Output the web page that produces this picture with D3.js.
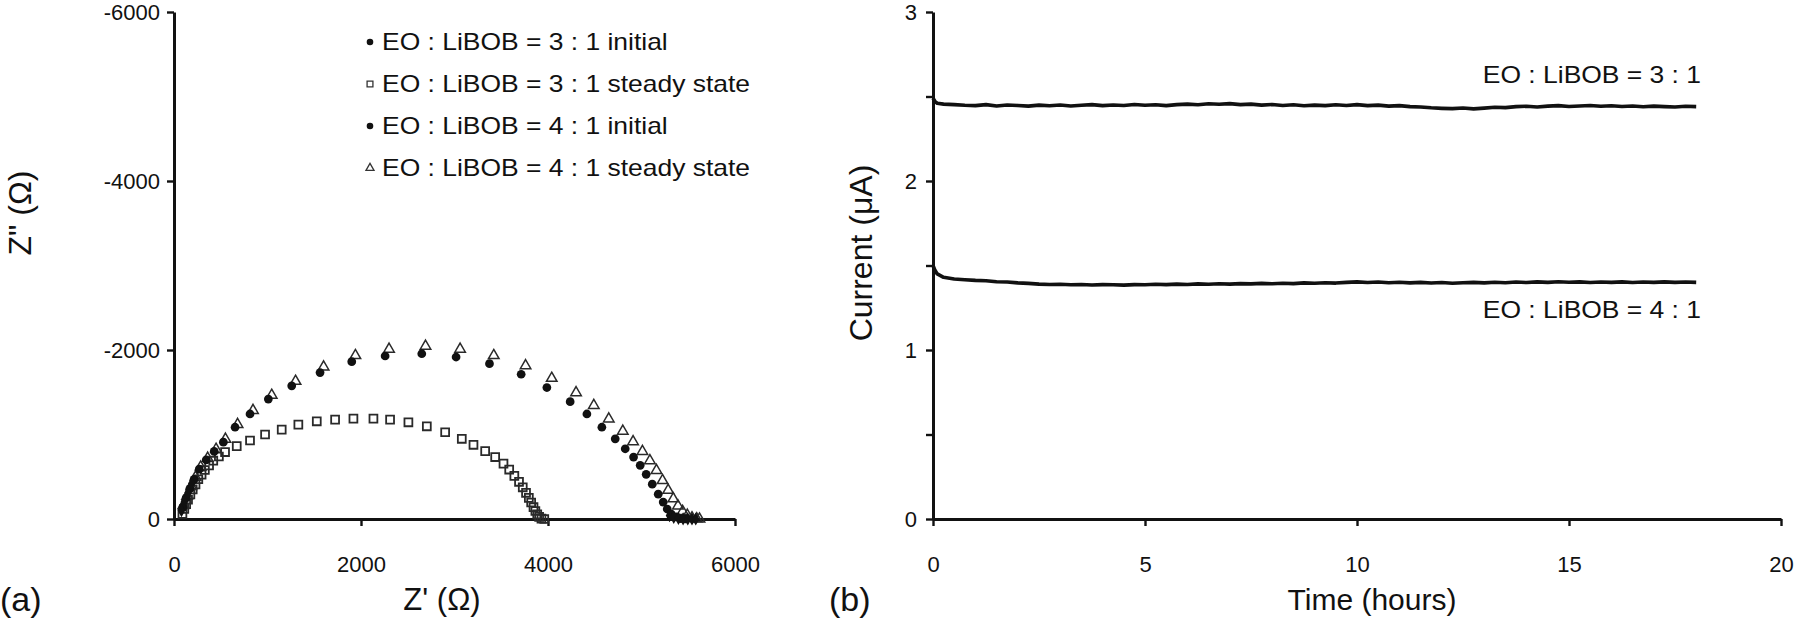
<!DOCTYPE html>
<html><head><meta charset="utf-8">
<script src="https://cdn.jsdelivr.net/npm/d3@7"></script>
<style>
body{margin:0;background:#fff}
svg{display:block}
text{font-family:"Liberation Sans",Arial,Helvetica,sans-serif;fill:#111}
</style>
</head><body>
<svg id="c" width="1800" height="623"></svg>
<script>
// ---------- Panel (a): Nyquist plot data (Z' , Z'') in ohm ----------
const zRealTicks = [0, 2000, 4000, 6000];
const zImagTicks = [0, -2000, -4000, -6000];
const legendLabels = [
  "EO : LiBOB = 3 : 1 initial",
  "EO : LiBOB = 3 : 1 steady state",
  "EO : LiBOB = 4 : 1 initial",
  "EO : LiBOB = 4 : 1 steady state"
];
// 3:1 initial (filled circles)
const init31Re = [95,130,170,215,270,345,430,528,653,813,1009,1259,1562,1901,2258,2650,3017,3374,3713,3988,4237,4416,4576,4719,4826,4915,4986,5050,5115,5179,5232,5275,5318,5371,5420,5470];
const init31Im = [-140,-250,-360,-470,-590,-700,-800,-909,-1086,-1243,-1419,-1576,-1733,-1862,-1929,-1956,-1917,-1838,-1713,-1556,-1388,-1243,-1086,-949,-831,-733,-635,-529,-412,-294,-200,-118,-59,-24,-5,0];
// 3:1 steady state (open squares)
const ss31Re = [90,110,130,150,175,200,230,260,295,330,375,420,480,546,671,813,974,1152,1330,1527,1723,1919,2133,2311,2507,2704,2900,3078,3203,3328,3435,3524,3585,3640,3690,3730,3765,3795,3820,3845,3865,3885,3905,3930,3960];
const ss31Im = [-60,-120,-175,-230,-290,-350,-410,-470,-525,-580,-635,-690,-740,-792,-862,-929,-1000,-1058,-1117,-1156,-1176,-1188,-1188,-1176,-1144,-1097,-1027,-949,-878,-803,-733,-655,-585,-510,-440,-375,-310,-250,-195,-140,-95,-55,-25,-5,0];
// 4:1 initial (filled diamonds)
const init41Re = [80,110,150,190,5300,5345,5395,5445,5495,5540,5580];
const init41Im = [-100,-200,-310,-420,-40,-20,-8,-2,0,0,0];
// 4:1 steady state (open triangles)
const ss41Re = [100,140,185,230,285,360,450,550,680,845,1045,1300,1600,1940,2300,2690,3060,3420,3760,4040,4300,4490,4650,4800,4910,5010,5090,5160,5225,5285,5340,5390,5440,5490,5540,5590,5620];
const ss41Im = [-160,-270,-385,-495,-615,-720,-825,-945,-1120,-1285,-1465,-1630,-1800,-1935,-2010,-2045,-2010,-1935,-1815,-1665,-1495,-1345,-1185,-1040,-915,-800,-690,-575,-455,-340,-240,-155,-90,-45,-15,-3,0];

// ---------- Panel (b): current vs time ----------
const timeTicks = [0, 5, 10, 15, 20];
const currentTicks = [0, 0.5, 1, 1.5, 2, 2.5, 3];
const currentTickLabels = ["0", "", "1", "", "2", "", "3"];
const timeHours = [0,0.05,0.1,0.25,0.5,0.75,1,1.25,1.5,1.75,2,2.25,2.5,2.75,3,3.25,3.5,3.75,4,4.25,4.5,4.75,5,5.25,5.5,5.75,6,6.25,6.5,6.75,7,7.25,7.5,7.75,8,8.25,8.5,8.75,9,9.25,9.5,9.75,10,10.25,10.5,10.75,11,11.25,11.5,11.75,12,12.25,12.5,12.75,13,13.25,13.5,13.75,14,14.25,14.5,14.75,15,15.25,15.5,15.75,16,16.25,16.5,16.75,17,17.25,17.5,17.75,18];
const current31 = [2.49,2.47,2.46,2.455,2.452,2.448,2.446,2.452,2.444,2.45,2.447,2.443,2.449,2.445,2.45,2.444,2.448,2.452,2.446,2.45,2.447,2.453,2.448,2.451,2.446,2.452,2.455,2.451,2.457,2.454,2.458,2.452,2.455,2.449,2.453,2.447,2.451,2.445,2.449,2.446,2.451,2.447,2.452,2.446,2.449,2.443,2.446,2.44,2.438,2.433,2.43,2.428,2.432,2.427,2.431,2.436,2.434,2.44,2.442,2.438,2.443,2.446,2.441,2.444,2.447,2.442,2.445,2.441,2.444,2.439,2.443,2.44,2.438,2.442,2.44];
const current41 = [1.50,1.47,1.45,1.43,1.42,1.416,1.412,1.41,1.404,1.402,1.397,1.394,1.39,1.388,1.389,1.386,1.388,1.385,1.387,1.386,1.384,1.387,1.386,1.389,1.387,1.39,1.388,1.391,1.389,1.392,1.39,1.393,1.391,1.394,1.392,1.395,1.393,1.397,1.395,1.398,1.396,1.4,1.403,1.399,1.402,1.398,1.401,1.397,1.4,1.396,1.399,1.395,1.398,1.4,1.397,1.401,1.398,1.402,1.399,1.403,1.4,1.404,1.401,1.403,1.399,1.402,1.4,1.403,1.399,1.402,1.4,1.403,1.4,1.402,1.4];
const lineLabels = ["EO : LiBOB = 3 : 1", "EO : LiBOB = 4 : 1"];

const svg = d3.select("#c");
const ink = "#111";

// ---------- scales ----------
const xa = d3.scaleLinear().domain([0, 6000]).range([174, 735]);
const ya = d3.scaleLinear().domain([0, -6000]).range([519, 12]);
const xb = d3.scaleLinear().domain([0, 20]).range([933, 1781]);
const yb = d3.scaleLinear().domain([0, 3]).range([519, 12]);

function styleAxis(g) {
  g.select(".domain").attr("stroke", ink).attr("stroke-width", 3);
  g.selectAll(".tick line").attr("stroke", ink).attr("stroke-width", 2.4);
  g.selectAll(".tick text").attr("font-size", 22).attr("fill", "#1a1a1a")
    .attr("font-family", '"Liberation Sans",Arial,sans-serif');
}

// Panel a axes
svg.append("g").attr("transform", "translate(0,519)")
  .call(d3.axisBottom(xa).tickValues(zRealTicks).tickSize(7).tickSizeOuter(0).tickPadding(30).tickFormat(d3.format("d")))
  .call(styleAxis);
svg.append("g").attr("transform", "translate(174,0)")
  .call(d3.axisLeft(ya).tickValues(zImagTicks).tickSize(7).tickSizeOuter(0).tickPadding(7).tickFormat(d => String(d)))
  .call(styleAxis);

// Panel b axes
svg.append("g").attr("transform", "translate(0,519)")
  .call(d3.axisBottom(xb).tickValues(timeTicks).tickSize(7).tickSizeOuter(0).tickPadding(30).tickFormat(d3.format("d")))
  .call(styleAxis);
svg.append("g").attr("transform", "translate(933,0)")
  .call(d3.axisLeft(yb).tickValues(currentTicks).tickSize(7).tickSizeOuter(0).tickPadding(9)
    .tickFormat((d, i) => currentTickLabels[i]))
  .call(styleAxis);

// ---------- panel a markers ----------
const gA = svg.append("g");
const pts = (re, im) => re.map((v, i) => [v, im[i]]);
const sym = (type, size) => d3.symbol().type(type).size(size);

function drawSeries(data, type, size, filled, cls, sw) {
  gA.selectAll("path." + cls).data(data).join("path").attr("class", cls)
    .attr("transform", d => `translate(${xa(d[0])},${ya(d[1])})`)
    .attr("d", sym(type, size)())
    .attr("fill", filled ? ink : "none")
    .attr("stroke", filled ? "none" : "#2a2a2a")
    .attr("stroke-width", sw || 1.6);
}
drawSeries(pts(ss31Re, ss31Im), d3.symbolSquare, 62, false, "s31", 1.8);
drawSeries(pts(ss41Re, ss41Im), d3.symbolTriangle, 48, false, "s41", 1.5);
drawSeries(pts(init31Re, init31Im), d3.symbolCircle, 60, true, "i31");
drawSeries(pts(init41Re, init41Im), d3.symbolDiamond, 50, true, "i41");

// legend
const legendY = [42, 84, 126, 168];
const legendSym = [
  {t: d3.symbolCircle, s: 34, f: true},
  {t: d3.symbolSquare, s: 34, f: false},
  {t: d3.symbolCircle, s: 34, f: true},
  {t: d3.symbolTriangle, s: 28, f: false}
];
legendLabels.forEach((lab, i) => {
  const m = legendSym[i];
  svg.append("path").attr("transform", `translate(370,${legendY[i]})`)
    .attr("d", sym(m.t, m.s)()).attr("fill", m.f ? ink : "none")
    .attr("stroke", m.f ? "none" : "#333").attr("stroke-width", 1.3);
  svg.append("text").attr("transform", `translate(382,${legendY[i]}) scale(1.15,1)`)
    .attr("dy", "0.36em").attr("font-size", 23).text(lab);
});

// ---------- panel b lines ----------
const line = d3.line().x((d) => xb(d[0])).y(d => yb(d[1]));
[current31, current41].forEach(arr => {
  svg.append("path").datum(timeHours.map((t, i) => [t, arr[i]]))
    .attr("d", line).attr("fill", "none").attr("stroke", ink)
    .attr("stroke-width", 3.6).attr("stroke-linejoin", "round");
});
const lineLabelY = [75, 310];
lineLabels.forEach((lab, i) => {
  svg.append("text").attr("transform", `translate(1701,${lineLabelY[i]}) scale(1.15,1)`)
    .attr("dy", "0.36em").attr("text-anchor", "end").attr("font-size", 23).text(lab);
});

// ---------- titles ----------
svg.append("text").attr("x", 442).attr("y", 610).attr("text-anchor", "middle")
  .attr("font-size", 31).text("Z' (Ω)");
svg.append("text").attr("transform", "translate(31,213) rotate(-90)")
  .attr("text-anchor", "middle").attr("font-size", 32).text("Z\" (Ω)");
svg.append("text").attr("x", 1372).attr("y", 610).attr("text-anchor", "middle")
  .attr("font-size", 30).text("Time (hours)");
svg.append("text").attr("transform", "translate(872,253) rotate(-90)")
  .attr("text-anchor", "middle").attr("font-size", 32).text("Current (μA)");
svg.append("text").attr("x", 0).attr("y", 611).attr("font-size", 34).text("(a)");
svg.append("text").attr("x", 829).attr("y", 611).attr("font-size", 34).text("(b)");
</script>
</body></html>
